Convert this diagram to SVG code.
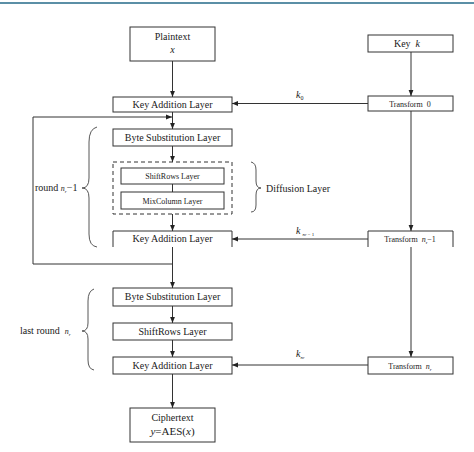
<svg xmlns="http://www.w3.org/2000/svg" width="474" height="452" viewBox="0 0 474 452">
<style>
.box{fill:#fff;stroke:#333;stroke-width:1}
.open{fill:none;stroke:#333;stroke-width:1}
.dash{fill:none;stroke:#333;stroke-width:1;stroke-dasharray:4,3}
.ln{fill:none;stroke:#333;stroke-width:1}
.br{fill:none;stroke:#444;stroke-width:0.9}
text{font-family:"Liberation Serif","Times New Roman",serif;fill:#1a1a1a}
.t10{font-size:10px}
.t8{font-size:8px}
.t11{font-size:11px}
.i{font-style:italic}
</style>
<defs>
<marker id="ah" viewBox="0 0 10 10" refX="10" refY="5" markerWidth="6" markerHeight="6" markerUnits="userSpaceOnUse" orient="auto">
<path d="M0,1 L10,5 L0,9 z" fill="#222"/>
</marker>
</defs>
<rect width="474" height="452" fill="#fff"/>
<line x1="0" y1="3" x2="474" y2="3" stroke="#5b8fa6" stroke-width="2"/>

<g id="connectors">
<path class="ln" d="M172.5,61 V97" marker-end="url(#ah)"/>
<path class="ln" d="M411,52 V96" marker-end="url(#ah)"/>
<path class="ln" d="M368,103.5 H232" marker-end="url(#ah)"/>
<path class="ln" d="M172.5,112 V129" marker-end="url(#ah)"/>
<path class="ln" d="M172.5,247 V264 H33 V117 H172" marker-end="url(#ah)"/>
<path class="ln" d="M172.5,146 V162" marker-end="url(#ah)"/>
<path class="ln" d="M172.5,184 V192"/>
<path class="ln" d="M172.5,214 V231" marker-end="url(#ah)"/>
<path class="ln" d="M411,111 V231" marker-end="url(#ah)"/>
<path class="ln" d="M368,239 H232" marker-end="url(#ah)"/>
<path class="ln" d="M172.5,264 V288" marker-end="url(#ah)"/>
<path class="ln" d="M172.5,306 V323" marker-end="url(#ah)"/>
<path class="ln" d="M172.5,340 V357" marker-end="url(#ah)"/>
<path class="ln" d="M411,247 V357" marker-end="url(#ah)"/>
<path class="ln" d="M368,365 H232" marker-end="url(#ah)"/>
<path class="ln" d="M172.5,374 V408" marker-end="url(#ah)"/>
<text class="t10 i" x="296" y="98">k<tspan font-size="6" dy="2" font-style="normal">0</tspan></text>
<text class="t10 i" x="296" y="234">k<tspan font-size="5" dy="2" dx="2">n<tspan font-size="4">r</tspan><tspan font-style="normal"> − 1</tspan></tspan></text>
<text class="t10 i" x="296" y="357">k<tspan font-size="5" dy="2">n<tspan font-size="4">r</tspan></tspan></text>
</g>

<g id="plaintext">
<rect class="box" x="130" y="27" width="85" height="34"/>
<text class="t10" x="172.5" y="40" text-anchor="middle">Plaintext</text>
<text class="t10 i" x="172.5" y="53" text-anchor="middle">x</text>
</g>
<g id="key">
<rect class="box" x="368" y="35" width="85" height="17"/>
<text class="t10" x="407" y="47" text-anchor="middle" xml:space="preserve">Key  <tspan class="i">k</tspan></text>
</g>
<g id="keyadd1">
<rect class="box" x="113" y="97" width="119" height="15"/>
<text class="t10" x="172.5" y="108" text-anchor="middle">Key Addition Layer</text>
</g>
<g id="transform0">
<rect class="box" x="368" y="96" width="85" height="15"/>
<text class="t8" x="410" y="107" text-anchor="middle" xml:space="preserve">Transform  0</text>
</g>
<g id="bytesub1">
<rect class="box" x="113" y="129" width="119" height="17"/>
<text class="t10" x="172.5" y="141" text-anchor="middle">Byte Substitution Layer</text>
</g>
<g id="diffusion">
<rect class="dash" x="113" y="162" width="119" height="52"/>
<path class="br" d="M251,162 Q256,163 256,170 V181 Q256,188 261,188 Q256,188 256,195 V205 Q256,212 251,212"/>
<text class="t10" x="266" y="192">Diffusion Layer</text>
</g>
<g id="shiftrows1">
<rect class="box" x="121" y="168" width="103" height="16"/>
<text class="t8" x="172.5" y="179" text-anchor="middle">ShiftRows Layer</text>
</g>
<g id="mixcolumn">
<rect class="box" x="121" y="192" width="103" height="17"/>
<text class="t8" x="172.5" y="204" text-anchor="middle">MixColumn Layer</text>
</g>
<g id="keyadd2">
<path class="open" d="M113,247 V231 H232 V247"/>
<text class="t10" x="172.5" y="242" text-anchor="middle">Key Addition Layer</text>
</g>
<g id="transform-nr1">
<path class="open" d="M368,247 V231 H453 V247"/>
<text class="t8" x="410" y="242" text-anchor="middle" xml:space="preserve">Transform  <tspan class="i">n</tspan><tspan font-size="5" dy="2">r</tspan><tspan dy="-2">−1</tspan></text>
</g>
<g id="round">
<path class="br" d="M97,127 Q89,129 89,142 V178 Q89,188 82,188 Q89,188 89,198 V234 Q89,246 97,247"/>
<text class="t10" x="35" y="191">round <tspan class="i" font-size="8">n</tspan><tspan font-size="5" dy="2" class="i">r</tspan><tspan dy="-2">−1</tspan></text>
</g>
<g id="bytesub2">
<rect class="box" x="113" y="288" width="119" height="18"/>
<text class="t10" x="172.5" y="300" text-anchor="middle">Byte Substitution Layer</text>
</g>
<g id="shiftrows2">
<rect class="box" x="113" y="323" width="119" height="17"/>
<text class="t10" x="172.5" y="335" text-anchor="middle">ShiftRows Layer</text>
</g>
<g id="keyadd3">
<rect class="box" x="113" y="357" width="119" height="17"/>
<text class="t10" x="172.5" y="369" text-anchor="middle">Key Addition Layer</text>
</g>
<g id="transform-nr">
<rect class="box" x="368" y="357" width="85" height="17"/>
<text class="t8" x="410" y="369" text-anchor="middle" xml:space="preserve">Transform  <tspan class="i">n</tspan><tspan font-size="5" dy="2" class="i">r</tspan></text>
</g>
<g id="lastround">
<path class="br" d="M94,289 Q88,291 88,301 V323 Q88,331 82,331 Q88,331 88,339 V360 Q88,369 94,370"/>
<text class="t10" x="20" y="334" xml:space="preserve">last round  <tspan class="i" font-size="8">n</tspan><tspan font-size="5" dy="2" class="i">r</tspan></text>
</g>
<g id="ciphertext">
<rect class="box" x="130" y="408" width="85" height="34"/>
<text class="t10" x="172.5" y="421" text-anchor="middle">Ciphertext</text>
<text class="t11" x="172.5" y="435" text-anchor="middle"><tspan class="i">y</tspan>=AES(<tspan class="i">x</tspan>)</text>
</g>
</svg>
